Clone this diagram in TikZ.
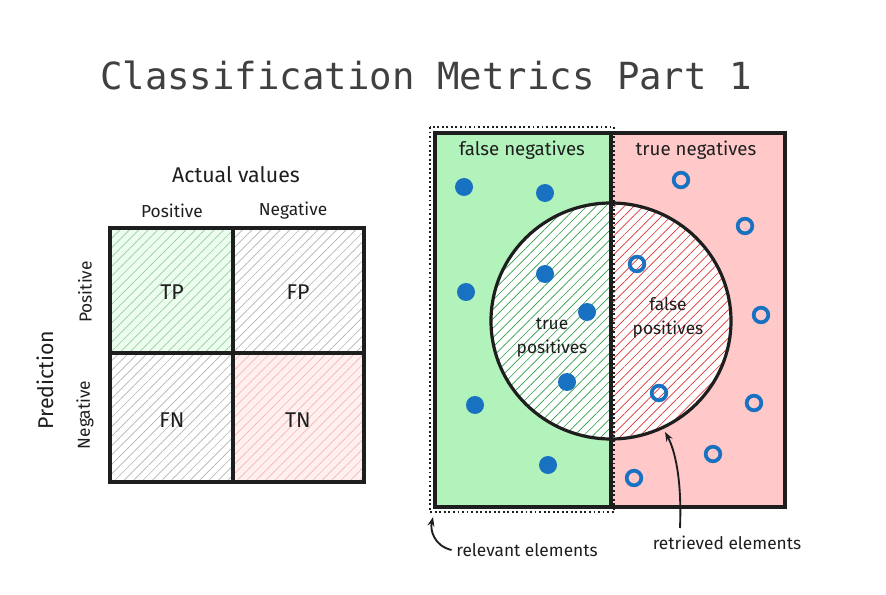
\documentclass[tikz,border=0pt]{standalone}
\usepackage{fontspec}
\setmainfont{Fira Sans}
\newfontfamily\titlefont{DejaVu Sans Mono}
\usetikzlibrary{patterns.meta,arrows.meta}
\definecolor{ink}{HTML}{1E1E1E}
\definecolor{dot}{HTML}{1971C2}
\definecolor{gfill}{HTML}{B2F2BB}
\definecolor{rfill}{HTML}{FFC9C9}
\definecolor{ghatch}{HTML}{2F9E44}
\definecolor{rhatch}{HTML}{E03131}
\begin{document}
\begin{tikzpicture}[x=0.75pt,y=-0.75pt,
  lbl/.style={font=\fontsize{13}{15}\selectfont,text=ink},
  box/.style={draw=ink,line width=2.4pt},
  hat/.style={pattern={Lines[angle=45,distance=5pt,line width=0.5pt]},pattern color=#1},
  fdot/.style={circle,fill=dot,minimum size=13.5pt,inner sep=0},
  rdot/.style={circle,draw=dot,line width=2.8pt,minimum size=11pt,inner sep=0},
  arr/.style={draw=ink,line width=1.4pt,-{Stealth[length=7pt]}}]
\useasboundingbox (0,0) rectangle (886,595);
\node[font=\titlefont\fontsize{28}{32}\selectfont,text=ink!85] (title) at (426,75) {Classification Metrics Part 1};
% matrix
\fill[hat=gray!60] (233,228) rectangle (364,353);
\fill[hat=gray!60] (110,353) rectangle (233,482);
\fill[gfill!25] (110,228) rectangle (233,353);
\fill[hat=ghatch!50] (110,228) rectangle (233,353);
\fill[rfill!30] (233,353) rectangle (364,482);
\fill[hat=rhatch!35] (233,353) rectangle (364,482);
\draw[box] (110,228) rectangle (364,482);
\draw[box] (233,228) -- (233,482);
\draw[box] (110,353) -- (364,353);
\node[lbl,font=\fontsize{16}{18}\selectfont] (tp) at (172,292) {TP};
\node[lbl,font=\fontsize{16}{18}\selectfont] (fp) at (298,292) {FP};
\node[lbl,font=\fontsize{16}{18}\selectfont] (fn) at (172,420) {FN};
\node[lbl,font=\fontsize{16}{18}\selectfont] (tn) at (298,420) {TN};
\node[lbl,font=\fontsize{16}{18}\selectfont] (av) at (236,175) {Actual values};
\node[lbl] (ap) at (172,211) {Positive};
\node[lbl] (an) at (293,211) {Negative};
\node[lbl,font=\fontsize{16}{18}\selectfont,rotate=90] (pr) at (45,380) {Prediction};
\node[lbl,rotate=90] (pp) at (85,292) {Positive};
\node[lbl,rotate=90] (pn) at (85,415) {Negative};
% venn
\fill[gfill] (435,133) rectangle (611,507);
\fill[rfill] (611,133) rectangle (785,507);
\begin{scope}
\clip (491,190) rectangle (611,450);
\fill[white] (611,321) ellipse (120 and 118);
\fill[hat=ghatch] (611,321) ellipse (120 and 118);
\end{scope}
\begin{scope}
\clip (611,190) rectangle (735,450);
\fill[white] (611,321) ellipse (120 and 118);
\fill[hat=rhatch] (611,321) ellipse (120 and 118);
\end{scope}
\draw[box] (435,133) rectangle (785,507);
\draw[box] (611,133) -- (611,507);
\draw[box] (611,321) ellipse (120 and 118);
\draw[ink,line width=1.4pt,dotted] (430,127) rectangle (614,512);
\node[lbl,font=\fontsize{14}{16}\selectfont] (fnl) at (522,150) {false negatives};
\node[lbl,font=\fontsize{14}{16}\selectfont] (tnl) at (696,150) {true negatives};
\node[lbl,align=center,font=\fontsize{13}{18}\selectfont] (tpl) at (552,338) {true\\positives};
\node[lbl,align=center,font=\fontsize{13}{18}\selectfont] (fpl) at (668,318) {false\\positives};
\foreach \p [count=\i] in {(464,187),(545,193),(545,274),(466,292),(587,312),(567,382),(475,405),(548,465)}
  \node[fdot] (f\i) at \p {};
\foreach \p [count=\i] in {(681,180),(745,226),(637,264),(761,315),(659,393),(754,403),(713,454),(634,478)}
  \node[rdot] (r\i) at \p {};
\node[lbl] (rel) at (527,550) {relevant elements};
\node[lbl] (ret) at (727,543) {retrieved elements};
\coordinate (relt) at (433,517);
\coordinate (rett) at (665,432);
\draw[arr] (rel.west) .. controls (434,546) and (430,530) .. (relt);
\draw[arr] (680,528) .. controls (682,480) and (675,450) .. (rett);
\end{tikzpicture}
\end{document}
